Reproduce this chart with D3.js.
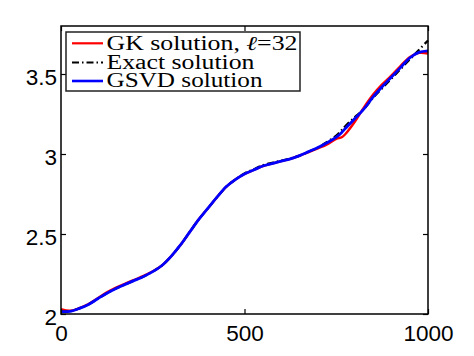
<!DOCTYPE html>
<html>
<head>
<meta charset="utf-8">
<script src="https://cdn.jsdelivr.net/npm/d3@7"></script>
<style>
  html, body { margin: 0; padding: 0; background: #fff; }
  svg { display: block; }
</style>
</head>
<body>
<svg id="chart" width="474" height="356"></svg>
<script>
// ---- data ----
const xSamples = [0, 25, 50, 75, 100, 125, 150, 175, 200, 225, 250, 275, 300, 325, 350, 375, 400,
  425, 450, 475, 500, 525, 550, 575, 600, 625, 650, 675, 700, 725, 750, 765, 775, 800, 825, 850,
  875, 900, 925, 950, 975, 1000];

const gsvdSolution = [2.015, 2.017, 2.035, 2.06, 2.095, 2.13, 2.16, 2.185, 2.21, 2.235, 2.265, 2.303,
  2.36, 2.43, 2.51, 2.59, 2.66, 2.73, 2.795, 2.84, 2.875, 2.90, 2.925, 2.94, 2.955, 2.97, 2.99,
  3.015, 3.04, 3.07, 3.105, 3.135, 3.16, 3.22, 3.28, 3.355, 3.42, 3.48, 3.54, 3.60, 3.635, 3.645];

const gkSolution = [2.03, 2.02, 2.037, 2.062, 2.098, 2.135, 2.165, 2.19, 2.214, 2.238, 2.267, 2.303,
  2.36, 2.43, 2.51, 2.59, 2.66, 2.73, 2.795, 2.84, 2.875, 2.90, 2.925, 2.94, 2.955, 2.97, 2.99,
  3.012, 3.035, 3.06, 3.095, 3.105, 3.125, 3.20, 3.29, 3.37, 3.435, 3.49, 3.55, 3.605, 3.632, 3.628];

const exactSolution = [2.015, 2.017, 2.035, 2.06, 2.095, 2.13, 2.16, 2.185, 2.21, 2.235, 2.265, 2.303,
  2.36, 2.43, 2.51, 2.59, 2.66, 2.73, 2.795, 2.84, 2.878, 2.905, 2.93, 2.945, 2.958, 2.972, 2.99,
  3.015, 3.04, 3.075, 3.115, 3.15, 3.175, 3.23, 3.28, 3.35, 3.41, 3.47, 3.53, 3.59, 3.65, 3.71];

const xTicks = [0, 500, 1000];
const yTicks = [2, 2.5, 3, 3.5];
const xDomain = [0, 1000];
const yDomain = [2, 3.8];

const seriesNames = ["GK solution, ", "Exact solution", "GSVD solution"];

// ---- layout ----
const svg = d3.select("#chart");
const L = 61, R = 428, T = 26, B = 314;
const x = d3.scaleLinear().domain(xDomain).range([L, R]);
const y = d3.scaleLinear().domain(yDomain).range([B, T]);

svg.append("rect").attr("width", 474).attr("height", 356).attr("fill", "#fff");

svg.append("defs").append("clipPath").attr("id", "clip")
  .append("rect").attr("x", L).attr("y", T - 1).attr("width", R - L + 1).attr("height", B - T + 2);

const line = d3.line().x(d => x(d[0])).y(d => y(d[1])).curve(d3.curveCatmullRom.alpha(0.5));
const zip = vals => xSamples.map((xv, i) => [xv, vals[i]]);

const series = [
  { vals: gkSolution, color: "#ff0000", width: 2.4, dash: null },
  { vals: exactSolution, color: "#000000", width: 2.2, dash: "7,3,1.5,3" },
  { vals: gsvdSolution, color: "#0000ff", width: 2.8, dash: null }
];

const plot = svg.append("g").attr("clip-path", "url(#clip)");
series.forEach(s => {
  plot.append("path")
    .datum(zip(s.vals))
    .attr("d", line)
    .attr("fill", "none")
    .attr("stroke", s.color)
    .attr("stroke-width", s.width)
    .attr("stroke-dasharray", s.dash)
    .attr("stroke-linejoin", "round");
});

// ---- axes (MATLAB box with inward ticks) ----
const tickLen = 5;
const axBottom = d3.axisBottom(x).tickValues(xTicks).tickSize(-tickLen).tickFormat(d3.format("d"));
const axTop = d3.axisTop(x).tickValues(xTicks).tickSize(-tickLen).tickFormat("");
const axLeft = d3.axisLeft(y).tickValues(yTicks).tickSize(-tickLen).tickFormat(d => d3.format("")(d));
const axRight = d3.axisRight(y).tickValues(yTicks).tickSize(-tickLen).tickFormat("");

function styleAxis(g) {
  g.select(".domain").remove();
  g.selectAll(".tick line").attr("stroke", "#000").attr("stroke-width", 1.2);
  g.selectAll("text").attr("fill", "#000")
    .style("font-family", "'Liberation Sans', Arial, sans-serif")
    .style("font-size", "22.5px");
}

const gB = svg.append("g").attr("transform", `translate(0,${B})`).call(axBottom).call(styleAxis);
gB.selectAll("text").attr("dy", null).attr("y", 27);
svg.append("g").attr("transform", `translate(0,${T})`).call(axTop).call(styleAxis);
const gL = svg.append("g").attr("transform", `translate(${L},0)`).call(axLeft).call(styleAxis);
gL.selectAll("text").attr("dy", null).attr("x", -4).attr("y", 10);
svg.append("g").attr("transform", `translate(${R},0)`).call(axRight).call(styleAxis);

svg.append("rect")
  .attr("x", L).attr("y", T).attr("width", R - L).attr("height", B - T)
  .attr("fill", "none").attr("stroke", "#000").attr("stroke-width", 1.5);

// ---- legend ----
const lg = svg.append("g");
lg.append("rect").attr("x", 66).attr("y", 32).attr("width", 234).attr("height", 59)
  .attr("fill", "#fff").attr("stroke", "#222").attr("stroke-width", 1.5);

const rowY = [43.3, 62.5, 81];
const textLen = [191, 148, 156];
series.forEach((s, i) => {
  lg.append("line")
    .attr("x1", 72).attr("x2", 103).attr("y1", rowY[i]).attr("y2", rowY[i])
    .attr("stroke", s.color).attr("stroke-width", i === 2 ? 2.6 : 2.2)
    .attr("stroke-dasharray", s.dash);
  const t = lg.append("text")
    .attr("x", 106.5).attr("y", rowY[i] + 6.3)
    .attr("textLength", textLen[i]).attr("lengthAdjust", "spacingAndGlyphs")
    .style("font-family", "'Liberation Serif', 'Times New Roman', serif")
    .style("font-size", "20px").attr("fill", "#000");
  t.append("tspan").text(seriesNames[i]);
  if (i === 0) {
    t.append("tspan").style("font-style", "italic").text("ℓ");
    t.append("tspan").text("=32");
  }
});
</script>
</body>
</html>
